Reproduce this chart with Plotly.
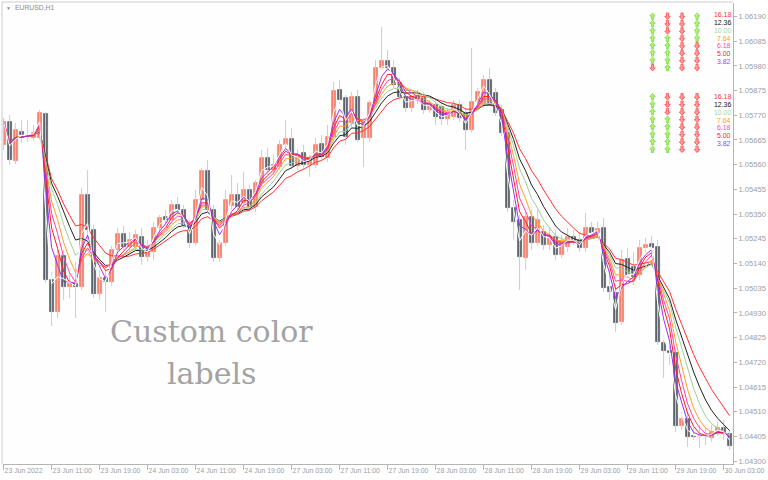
import numpy as np
import plotly.graph_objects as go

# ---------------- data (EURUSD H1) ----------------
x_tick_bars = [0, 8, 16, 24, 32, 40, 48, 56, 64, 72, 80, 88, 96, 104, 112, 120]
x_tick_labels = ["23 Jun 2022", "23 Jun 11:00", "23 Jun 19:00", "24 Jun 03:00",
                 "24 Jun 11:00", "24 Jun 19:00", "27 Jun 03:00", "27 Jun 11:00",
                 "27 Jun 19:00", "28 Jun 03:00", "28 Jun 11:00", "28 Jun 19:00",
                 "29 Jun 03:00", "29 Jun 11:00", "29 Jun 19:00", "30 Jun 03:00"]
y_tick_labels = ["1.04300", "1.04405", "1.04510", "1.04615", "1.04720", "1.04825",
                 "1.04930", "1.05035", "1.05140", "1.05245", "1.05350", "1.05455",
                 "1.05560", "1.05665", "1.05770", "1.05875", "1.05980", "1.06085", "1.06190"]

open_ = [1.05644, 1.05742, 1.05576, 1.05699, 1.05682, 1.05674, 1.05674, 1.05776, 1.0507, 1.04934,
         1.05172, 1.05041, 1.05053, 1.05041, 1.05431, 1.05283, 1.05011, 1.05079, 1.05062, 1.05198,
         1.05266, 1.0521, 1.0521, 1.05253, 1.05168, 1.05189, 1.05291, 1.05338, 1.05325, 1.05389,
         1.05368, 1.05304, 1.05227, 1.0541, 1.05533, 1.05368, 1.05164, 1.05227, 1.05385, 1.05431,
         1.05397, 1.05453, 1.0538, 1.05482, 1.05589, 1.05538, 1.0555, 1.05644, 1.05669, 1.05555,
         1.0561, 1.05559, 1.05559, 1.05648, 1.05589, 1.05678, 1.05878, 1.05844, 1.05737, 1.05848,
         1.05674, 1.05674, 1.05822, 1.05971, 1.06001, 1.05971, 1.05907, 1.05848, 1.05801, 1.05848,
         1.05844, 1.05793, 1.05814, 1.05805, 1.05754, 1.05763, 1.05814, 1.0578, 1.05708, 1.05827,
         1.05814, 1.0592, 1.05865, 1.05793, 1.05695, 1.05376, 1.05325, 1.05164, 1.05338, 1.05227,
         1.05274, 1.05219, 1.05253, 1.05176, 1.0521, 1.05253, 1.0524, 1.05206, 1.05291, 1.0527,
         1.05291, 1.05041, 1.05015, 1.04892, 1.05159, 1.05125, 1.05091, 1.05206, 1.05223, 1.0521,
         1.04802, 1.04768, 1.0476, 1.0445, 1.0448, 1.04407, 1.04403, 1.04407, 1.04399, 1.04424,
         1.04441, 1.04416]
high = [1.05759, 1.05771, 1.05737, 1.0575, 1.0575, 1.05729, 1.05793, 1.05784, 1.05104, 1.05198,
        1.05198, 1.05104, 1.05147, 1.05461, 1.05538, 1.05304, 1.05113, 1.05113, 1.05215, 1.05291,
        1.053, 1.05274, 1.05283, 1.05291, 1.0524, 1.05317, 1.05346, 1.05368, 1.0541, 1.05423,
        1.05389, 1.05325, 1.05453, 1.05546, 1.0558, 1.05389, 1.0524, 1.05453, 1.05516, 1.05482,
        1.05529, 1.05474, 1.05495, 1.05623, 1.05631, 1.05601, 1.05665, 1.0575, 1.05716, 1.05623,
        1.05644, 1.05601, 1.05674, 1.05686, 1.05729, 1.05912, 1.0592, 1.05856, 1.05869, 1.05878,
        1.05759, 1.05835, 1.06005, 1.06145, 1.06048, 1.06005, 1.05929, 1.05878, 1.05856, 1.05878,
        1.05869, 1.05835, 1.05835, 1.05827, 1.05801, 1.05835, 1.05835, 1.05801, 1.06056, 1.05886,
        1.05941, 1.05971, 1.05886, 1.05814, 1.05716, 1.0541, 1.05346, 1.05368, 1.05368, 1.05368,
        1.05304, 1.05291, 1.05283, 1.05261, 1.05291, 1.05283, 1.05274, 1.05355, 1.05317, 1.05317,
        1.05334, 1.05113, 1.05049, 1.05198, 1.05206, 1.05189, 1.0524, 1.05249, 1.05257, 1.0524,
        1.04836, 1.04794, 1.04781, 1.0451, 1.0451, 1.04441, 1.04454, 1.04441, 1.04454, 1.04467,
        1.04475, 1.04433]
low = [1.05623, 1.05559, 1.05563, 1.05652, 1.05657, 1.05661, 1.05665, 1.05058, 1.04875, 1.04909,
       1.04985, 1.04994, 1.04909, 1.05028, 1.0524, 1.04994, 1.04985, 1.04934, 1.05045, 1.05181,
       1.05198, 1.05189, 1.05198, 1.05134, 1.05147, 1.05155, 1.05266, 1.05304, 1.05308, 1.05351,
       1.05291, 1.05206, 1.05215, 1.05397, 1.05359, 1.05147, 1.05147, 1.05215, 1.05368, 1.05368,
       1.05376, 1.05368, 1.05359, 1.0547, 1.05516, 1.05516, 1.05538, 1.05631, 1.05538, 1.05538,
       1.05538, 1.05508, 1.05546, 1.0558, 1.05572, 1.05665, 1.05818, 1.05644, 1.05716, 1.05657,
       1.0555, 1.05657, 1.0581, 1.05963, 1.05954, 1.05886, 1.05835, 1.05784, 1.05784, 1.05818,
       1.05776, 1.0578, 1.05729, 1.05729, 1.05729, 1.0575, 1.05742, 1.05623, 1.05695, 1.05801,
       1.05801, 1.0581, 1.05767, 1.05682, 1.05359, 1.0524, 1.05028, 1.05113, 1.05198, 1.05215,
       1.05198, 1.05198, 1.05155, 1.05164, 1.05189, 1.05219, 1.05189, 1.05189, 1.05257, 1.05257,
       1.05019, 1.04985, 1.04849, 1.04879, 1.05079, 1.05049, 1.0507, 1.05189, 1.05189, 1.04794,
       1.04654, 1.04709, 1.04424, 1.04433, 1.04361, 1.0439, 1.04356, 1.04369, 1.04382, 1.04407,
       1.0439, 1.04348]
close = [1.05742, 1.0558, 1.05708, 1.05686, 1.05686, 1.05695, 1.0578, 1.0507, 1.04934, 1.05172,
         1.05041, 1.05053, 1.05041, 1.05431, 1.05283, 1.05011, 1.05079, 1.05062, 1.05198, 1.05266,
         1.0521, 1.0524, 1.05261, 1.05168, 1.05189, 1.05291, 1.05334, 1.05325, 1.05389, 1.05368,
         1.05304, 1.05227, 1.0541, 1.05533, 1.05368, 1.05164, 1.05227, 1.0541, 1.05431, 1.0538,
         1.05453, 1.0538, 1.05482, 1.05589, 1.05538, 1.05559, 1.05644, 1.05669, 1.05555, 1.05601,
         1.05559, 1.05589, 1.05644, 1.05593, 1.05678, 1.05873, 1.05835, 1.05678, 1.05848, 1.05665,
         1.05737, 1.05822, 1.05971, 1.06001, 1.05971, 1.05899, 1.05848, 1.05801, 1.05848, 1.05839,
         1.05793, 1.05818, 1.05763, 1.05754, 1.0578, 1.05814, 1.05759, 1.05708, 1.05827, 1.05869,
         1.0592, 1.05822, 1.0578, 1.05695, 1.05376, 1.05317, 1.05168, 1.05338, 1.05227, 1.05325,
         1.05219, 1.05253, 1.05176, 1.05232, 1.05253, 1.05232, 1.05206, 1.05291, 1.0527, 1.05287,
         1.05036, 1.05019, 1.04888, 1.05155, 1.05091, 1.05083, 1.05206, 1.05219, 1.05206, 1.04805,
         1.04768, 1.0476, 1.0445, 1.0448, 1.04403, 1.04403, 1.04407, 1.04403, 1.04424, 1.04441,
         1.04416, 1.04365]

# moving-average periods (LWMA) with their colours; labels as shown in the panel
ma_periods = [16.18, 12.36, 10.00, 7.64, 6.18, 5.00, 3.82, 2.36]
ma_colors = ["#ff3030", "#222222", "#9ccf9c", "#ffa020", "#ff40b0", "#ff1c1c", "#9b30f0", "#ffffff"]
ma_labels = ["16.18", "12.36", "10.00", "7.64", "6.18", "5.00", "3.82"]
label_colors = ["#ff3333", "#111111", "#a6d6a6", "#ffa020", "#ff44bb", "#ff2222", "#a040f0"]

# arrow signal panel: U = up, D = down (4 columns x 8 rows, two blocks)
signals_block1 = ["UUUUUUUD", "DDDUUUUU", "DDDDDDDD", "UUUUDDDD"]
signals_block2 = ["UUUUUUUU", "DDDUUUUU", "DDDDDDDD", "DDDDDDDD"]

# ---------------- figure ----------------
W, H = 768, 480
L, R, T, B = 3, 35, 3, 16
PW, PH = W - L - R, H - T - B


def px(x):
    return (x - L) / PW


def py(y):
    return 1 - (y - T) / PH


bars = np.arange(len(close))
o = np.array(open_)
c = np.array(close)
hi = np.array(high)
lo = np.array(low)


def lwma(vals, p):
    n = int(np.ceil(p))
    w = p - np.arange(n)
    out = []
    for i in range(len(vals)):
        m = min(n, i + 1)
        seg = vals[i::-1][:m]
        ww = w[:m]
        out.append(float(np.dot(ww, seg) / ww.sum()))
    return out


BULL = "#f4826f"
BEAR = "#5d646b"
WICK = "#c9cdda"
AXC = "#b4b4b4"
TXC = "#9a9da5"

fig = go.Figure()

# wicks
wx, wy = [], []
for k in bars:
    wx += [k, k, None]
    wy += [lo[k], hi[k], None]
fig.add_trace(go.Scatter(x=wx, y=wy, mode="lines", line=dict(color=WICK, width=1),
                         hoverinfo="skip", showlegend=False))

# bodies
cols = [BULL if c[k] >= o[k] else BEAR for k in bars]
fig.add_trace(go.Bar(x=bars, y=c - o, base=o, width=0.68,
                     marker=dict(color=cols, line=dict(color=cols, width=0.8)),
                     hoverinfo="skip", showlegend=False))

# moving averages
for p, col in zip(ma_periods, ma_colors):
    fig.add_trace(go.Scatter(x=bars, y=lwma(c, p), mode="lines",
                             line=dict(color=col, width=1), hoverinfo="skip",
                             showlegend=False))

y_vals = [float(s) for s in y_tick_labels]

fig.update_layout(
    width=W, height=H,
    margin=dict(l=L, r=R, t=T, b=B, autoexpand=False),
    paper_bgcolor="#ffffff", plot_bgcolor="#fefefe",
    showlegend=False, bargap=0,
    font=dict(family="Liberation Sans", size=7, color=TXC),
    xaxis=dict(range=[-0.1, 121.57], tickvals=x_tick_bars, ticktext=x_tick_labels,
               ticklabelposition="outside right", tickangle=0, automargin=False,
               ticks="outside", ticklen=5, tickcolor=AXC,
               showgrid=False, zeroline=False,
               showline=True, linecolor=AXC, linewidth=1,
               tickfont=dict(family="Liberation Sans", size=6.9, color=TXC)),
    yaxis=dict(range=[1.04288, 1.06247], side="right", tickvals=y_vals,
               ticktext=y_tick_labels, ticks="outside", ticklen=3, automargin=False,
               tickcolor=AXC, showgrid=False, zeroline=False,
               showline=True, linecolor=AXC, linewidth=1,
               tickfont=dict(family="Liberation Sans", size=7.6, color=TXC)),
)

shapes = []
# frame (top and left)
shapes.append(dict(type="line", xref="paper", yref="paper", x0=px(2), x1=px(733),
                   y0=py(2), y1=py(2), line=dict(color="#cccccc", width=1)))
shapes.append(dict(type="line", xref="paper", yref="paper", x0=px(2), x1=px(2),
                   y0=py(2), y1=py(464), line=dict(color="#cccccc", width=1)))


def arrow_path(cx, cy, up):
    s = -1 if up else 1
    pts = [(cx, cy + s * 3.3), (cx + 2.7, cy + s * 0.2), (cx + 1.1, cy + s * 0.2),
           (cx + 1.1, cy - s * 3.2), (cx - 1.1, cy - s * 3.2), (cx - 1.1, cy + s * 0.2),
           (cx - 2.7, cy + s * 0.2)]
    return "M " + " L ".join(f"{px(a):.5f},{py(b):.5f}" for a, b in pts) + " Z"


ann = []
# title
ann.append(dict(text="▼", x=px(4), y=py(7.5), xref="paper", yref="paper", showarrow=False,
                xanchor="left", yanchor="middle", font=dict(size=5, color="#8a8a8a")))
ann.append(dict(text="EURUSD,H1", x=px(13), y=py(7.5), xref="paper", yref="paper",
                showarrow=False, xanchor="left", yanchor="middle",
                font=dict(family="Liberation Sans", size=6.8, color="#8a8a8a")))

# watermark
ann.append(dict(text="Custom color", x=px(211), y=py(331), xref="paper", yref="paper",
                showarrow=False, xanchor="center", yanchor="middle",
                font=dict(family="DejaVu Serif", size=30, color="#a3a3a3")))
ann.append(dict(text="labels", x=px(211), y=py(373), xref="paper", yref="paper",
                showarrow=False, xanchor="center", yanchor="middle",
                font=dict(family="DejaVu Serif", size=30, color="#a3a3a3")))

# arrow signal glyphs (two-tone: light body + coloured glyph)
col_x = [652.5, 667.5, 682, 697]
UP_LINE, UP_FILL = "#74d83c", "#d8ff9c"
DN_LINE, DN_FILL = "#ff4444", "#ffc6c6"
for block, y0, dy in [(signals_block1, 16.2, 7.35), (signals_block2, 96.8, 7.5)]:
    for ci, sig in enumerate(block):
        for ri, s in enumerate(sig):
            up = s == "U"
            cy = y0 + dy * ri
            shapes.append(dict(type="path", xref="paper", yref="paper",
                               path=arrow_path(col_x[ci], cy, up),
                               line=dict(color=UP_LINE if up else DN_LINE, width=0.8),
                               fillcolor=UP_FILL if up else DN_FILL))
            ann.append(dict(text="⇧" if up else "⇩", x=px(col_x[ci]), y=py(cy),
                            xref="paper", yref="paper", showarrow=False,
                            xanchor="center", yanchor="middle", borderpad=0,
                            font=dict(family="DejaVu Sans", size=6.2,
                                      color=UP_LINE if up else DN_LINE)))

# period labels of the panel
for ly0, ldy in [(14.8, 7.75), (96.8, 7.75)]:
    for ri, (lab, lc) in enumerate(zip(ma_labels, label_colors)):
        ann.append(dict(text=lab, x=px(731.5), y=py(ly0 + ldy * ri), xref="paper",
                        yref="paper", showarrow=False, xanchor="right", yanchor="middle",
                        borderpad=0,
                        font=dict(family="Liberation Sans", size=6.9, color=lc)))

fig.update_layout(annotations=ann, shapes=shapes)

fig.write_html("out.html", config={"displayModeBar": False},
               post_script="document.body.style.margin='0';")
